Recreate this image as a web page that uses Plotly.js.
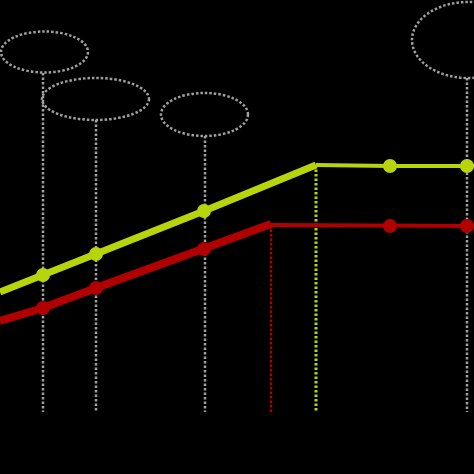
<!DOCTYPE html>
<html>
<head>
<meta charset="utf-8">
<script src="https://cdn.plot.ly/plotly-3.0.1.min.js"></script>
<style>
  html, body { margin: 0; padding: 0; background: #000; }
  #chart { width: 474px; height: 474px; }
</style>
</head>
<body>
<div id="chart"></div>
<script>
// rising part of each series, then the flat part
const greenRiseX = [0, 43, 96, 204, 316];
const greenRiseY = [292, 275, 254, 211, 165];
const greenFlatX = [316, 390, 467, 474];
const greenFlatY = [165, 166, 166, 166];
const greenDotsX = [43, 96, 204, 390, 467];
const greenDotsY = [275, 254, 211, 166, 166];

const redRiseX = [0, 43, 96, 204, 271];
const redRiseY = [321, 308, 288, 249, 224];
const redFlatX = [271, 390, 467, 474];
const redFlatY = [225, 226, 226, 226];
const redDotsX = [43, 96, 204, 390, 467];
const redDotsY = [308, 288, 249, 226, 226];

// bubbles (ellipses) and the stems hanging from them
const bubbleX = [44.5, 95.5, 204.5, 468];
const bubbleY = [52, 99, 114.5, 40];
const bubbleRx = [43.5, 53.5, 43.5, 56];
const bubbleRy = [20.5, 21, 21.5, 38];
const stemX = [43, 96, 205, 467];
const stemTop = [73, 120, 136, 78];
const stemBottom = 412;
const redDrop = 271, greenDrop = 316;

const GREEN = '#b8d40c';
const RED = '#b00000';
const GREY = '#a0a0a0';

var traces = [
  {x: greenRiseX, y: greenRiseY, mode: 'lines', line: {color: GREEN, width: 7}},
  {x: greenFlatX, y: greenFlatY, mode: 'lines', line: {color: GREEN, width: 4}},
  {x: redRiseX, y: redRiseY, mode: 'lines', line: {color: RED, width: 8}},
  {x: redFlatX, y: redFlatY, mode: 'lines', line: {color: RED, width: 4}},
  {x: greenDotsX, y: greenDotsY, mode: 'markers', marker: {color: GREEN, size: 14}},
  {x: redDotsX, y: redDotsY, mode: 'markers', marker: {color: RED, size: 14}}
];
traces.forEach(t => { t.type = 'scatter'; t.hoverinfo = 'skip'; t.showlegend = false; });

var shapes = [];
for (let i = 0; i < bubbleX.length; ++i) {
    shapes.push({type: 'circle', layer: 'below', xref: 'x', yref: 'y',
        x0: bubbleX[i] - bubbleRx[i], x1: bubbleX[i] + bubbleRx[i],
        y0: bubbleY[i] - bubbleRy[i], y1: bubbleY[i] + bubbleRy[i],
        line: {color: GREY, width: 2.5, dash: '2.5px,2px'}});
    shapes.push({type: 'line', layer: 'below', xref: 'x', yref: 'y',
        x0: stemX[i], x1: stemX[i], y0: stemTop[i], y1: stemBottom,
        line: {color: GREY, width: 2.5, dash: '2.5px,2px'}});
}
shapes.push({type: 'line', layer: 'below', x0: redDrop, x1: redDrop,
    y0: redFlatY[0], y1: stemBottom, line: {color: RED, width: 2.5, dash: '2.5px,2px'}});
shapes.push({type: 'line', layer: 'below', x0: greenDrop, x1: greenDrop,
    y0: greenFlatY[0], y1: stemBottom, line: {color: GREEN, width: 3, dash: '2.5px,2px'}});

var layout = {
    width: 474, height: 474,
    margin: {l: 0, r: 0, t: 0, b: 0},
    paper_bgcolor: '#000', plot_bgcolor: '#000',
    xaxis: {range: [0, 474], visible: false, fixedrange: true},
    yaxis: {range: [474, 0], visible: false, fixedrange: true},
    shapes: shapes,
    showlegend: false
};

Plotly.newPlot('chart', traces, layout, {displayModeBar: false, staticPlot: true});
</script>
</body>
</html>
